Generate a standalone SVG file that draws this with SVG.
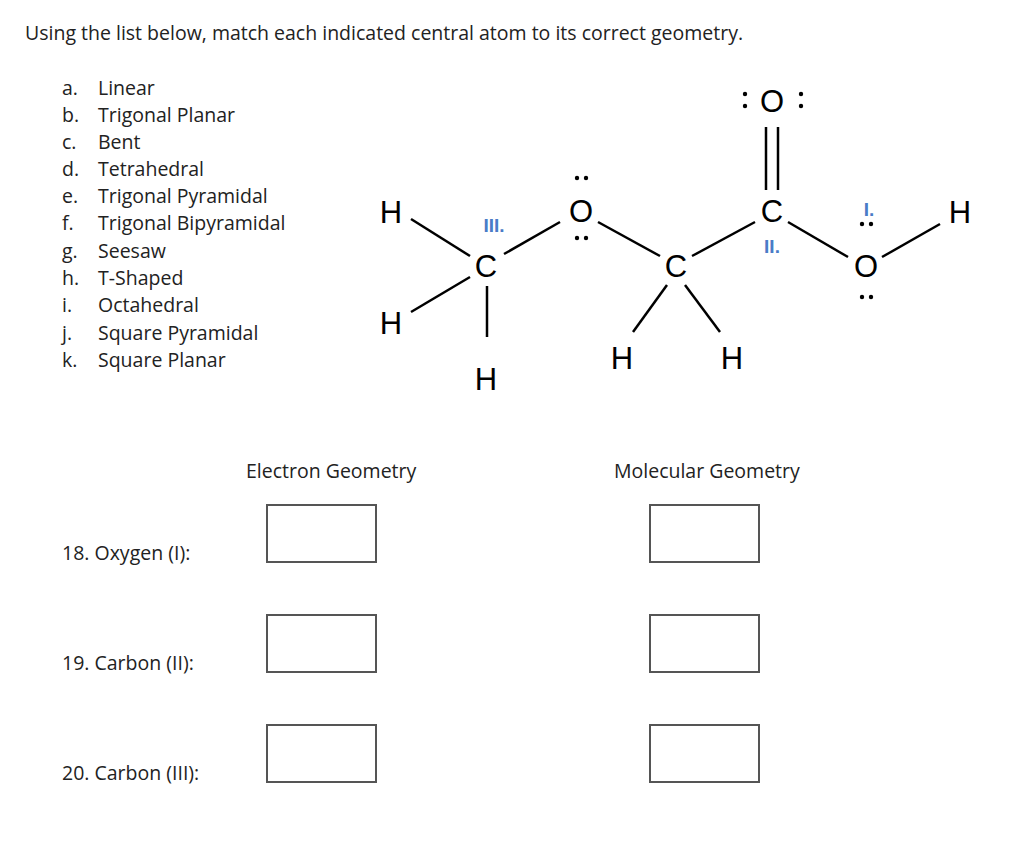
<svg xmlns="http://www.w3.org/2000/svg" width="1024" height="852" viewBox="0 0 1024 852">
<style>
.t{font-family:"Open Sans","Liberation Sans",sans-serif;font-size:19.5px;fill:#222}
.a{font-family:"Liberation Sans",Arial,sans-serif;font-size:31px;fill:#000;text-anchor:middle}
.l{font-family:"Liberation Sans",Arial,sans-serif;font-size:19px;font-weight:bold;fill:#4a7cc7;text-anchor:middle}
.b{stroke:#000;stroke-width:2.5;fill:none}
.box{fill:#fff;stroke:#555;stroke-width:2}
.d{fill:#000}
</style>
<rect width="1024" height="852" fill="#fff"/>
<text class="t" x="25" y="40">Using the list below, match each indicated central atom to its correct geometry.</text>
<g id="list" class="t">
<text x="62" y="95">a.</text><text x="98" y="95">Linear</text>
<text x="62" y="122">b.</text><text x="98" y="122">Trigonal Planar</text>
<text x="62" y="149">c.</text><text x="98" y="149">Bent</text>
<text x="62" y="176">d.</text><text x="98" y="176">Tetrahedral</text>
<text x="62" y="203">e.</text><text x="98" y="203">Trigonal Pyramidal</text>
<text x="62" y="230">f.</text><text x="98" y="230">Trigonal Bipyramidal</text>
<text x="62" y="258">g.</text><text x="98" y="258">Seesaw</text>
<text x="62" y="285">h.</text><text x="98" y="285">T-Shaped</text>
<text x="62" y="312">i.</text><text x="98" y="312">Octahedral</text>
<text x="62" y="340">j.</text><text x="98" y="340">Square Pyramidal</text>
<text x="62" y="367">k.</text><text x="98" y="367">Square Planar</text>
</g>
<g id="connectors" class="b">
<line x1="411" y1="219" x2="470" y2="256"/>
<line x1="411" y1="312" x2="470" y2="277"/>
<line x1="487" y1="286" x2="487" y2="337"/>
<line x1="504" y1="254" x2="560" y2="222"/>
<line x1="598" y1="222" x2="660" y2="256"/>
<line x1="667" y1="285" x2="633" y2="332"/>
<line x1="685" y1="285" x2="720" y2="332"/>
<line x1="692" y1="256" x2="755" y2="222"/>
<line x1="766" y1="190" x2="766" y2="127"/>
<line x1="778" y1="190" x2="778" y2="127"/>
<line x1="788" y1="222" x2="848" y2="257"/>
<line x1="882" y1="257" x2="940" y2="224"/>
</g>
<g id="atoms">
<text class="a" x="391" y="223">H</text>
<text class="a" x="391" y="334">H</text>
<text class="a" x="486" y="277">C</text>
<text class="a" x="486" y="390">H</text>
<text class="a" x="581" y="222">O</text>
<text class="a" x="676" y="277">C</text>
<text class="a" x="622" y="369">H</text>
<text class="a" x="732" y="369">H</text>
<text class="a" x="772" y="222">C</text>
<text class="a" x="772" y="112">O</text>
<text class="a" x="866" y="277">O</text>
<text class="a" x="960" y="223">H</text>
</g>
<g id="lonepairs" class="d">
<circle cx="577" cy="178" r="2.2"/><circle cx="586" cy="178" r="2.2"/>
<circle cx="577" cy="238" r="2.2"/><circle cx="586" cy="238" r="2.2"/>
<circle cx="745" cy="94" r="2.2"/><circle cx="745" cy="106" r="2.2"/>
<circle cx="801" cy="94" r="2.2"/><circle cx="801" cy="106" r="2.2"/>
<circle cx="862" cy="224" r="2.2"/><circle cx="871" cy="224" r="2.2"/>
<circle cx="862" cy="297" r="2.2"/><circle cx="871" cy="297" r="2.2"/>
</g>
<g id="labels">
<text class="l" x="494" y="232">III.</text>
<text class="l" x="772" y="253">II.</text>
<text class="l" x="869" y="216">I.</text>
</g>
<text class="t" x="246" y="478">Electron Geometry</text>
<text class="t" x="614" y="478">Molecular Geometry</text>
<g id="q18"><text class="t" x="62" y="560">18. Oxygen (I):</text>
<rect class="box" x="267" y="505" width="109" height="57"/><rect class="box" x="650" y="505" width="109" height="57"/></g>
<g id="q19"><text class="t" x="62" y="670">19. Carbon (II):</text>
<rect class="box" x="267" y="615" width="109" height="57"/><rect class="box" x="650" y="615" width="109" height="57"/></g>
<g id="q20"><text class="t" x="62" y="780">20. Carbon (III):</text>
<rect class="box" x="267" y="725" width="109" height="57"/><rect class="box" x="650" y="725" width="109" height="57"/></g>
</svg>
